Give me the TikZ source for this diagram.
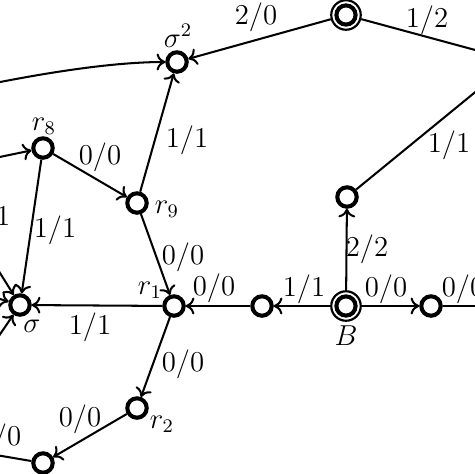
\documentclass[tikz,border=0pt]{standalone}
\usetikzlibrary{arrows.meta}
\begin{document}
\begin{tikzpicture}[x=0.4167pt,y=-0.4167pt,
  state/.style={circle,draw,line width=1.7pt,minimum size=8.1pt,inner sep=0pt,fill=white},
  dstate/.style={circle,draw,line width=0.9pt,minimum size=12.3pt,inner sep=0pt,fill=white,
    path picture={\draw[line width=1.7pt] (path picture bounding box.center) circle (4pt);}},
  edge/.style={line width=0.85pt,-{To[length=3.6pt,width=7pt]}},
  plain/.style={line width=0.85pt},
  lab/.style={inner sep=0pt,font=\fontsize{12}{14}\selectfont},
  nlab/.style={inner sep=0pt,font=\fontsize{11.5}{14}\selectfont}]
\useasboundingbox (0,0) rectangle (474,474);
% states
\node[dstate] (T) at (346,15) {};
\node[state] (s2) at (177,62) {};
\node[state] (r8) at (43,148) {};
\node[state] (r9) at (137,203) {};
\node[state] (U) at (347,197) {};
\node[state] (sig) at (20,305) {};
\node[state] (r1) at (174,306) {};
\node[state] (L) at (262,306) {};
\node[dstate] (B) at (346,306) {};
\node[state] (R) at (431,306) {};
\node[state] (r2) at (137,408) {};
\node[state] (Bt) at (43,463) {};
% free ends
\coordinate (eTR) at (490,54);
\coordinate (eUR) at (490,80);
\coordinate (eR) at (490,306);
\coordinate (eC) at (-10,84);
\coordinate (e8) at (-10,159);
\coordinate (eBt) at (-10,454);
\coordinate (es1) at (-10,257);
\coordinate (es2) at (-10,296);
\coordinate (es3) at (-10,349);
% node labels
\node[nlab] (ls2) at (178,36) {$\sigma^2$};
\node[nlab] (lr8) at (44,126) {$r_8$};
\node[nlab] (lr9) at (167,209) {$r_9$};
\node[nlab] (lr1) at (150,290) {$r_1$};
\node[nlab] (lsig) at (32,326) {$\sigma$};
\node[nlab] (lr2) at (162,424) {$r_2$};
\node[nlab] (lB) at (346,336) {$B$};
% edges
\draw[edge] (T) -- (s2);
\draw[plain] (T) -- (eTR);
\draw[plain] (U) -- (eUR);
\draw[edge] (B) -- (U);
\draw[edge] (B) -- (L);
\draw[edge] (L) -- (r1);
\draw[edge] (B) -- (R);
\draw[plain] (R) -- (eR);
\draw[edge] (r1) -- (sig);
\draw[edge] (r1) -- (r2);
\draw[edge] (r2) -- (Bt);
\draw[plain] (eBt) -- (Bt);
\draw[edge] (r9) -- (r1);
\draw[edge] (r9) -- (s2);
\draw[edge] (r8) -- (r9);
\draw[edge] (r8) -- (sig);
\draw[edge] (e8) -- (r8);
\draw[edge] (eC) .. controls (60,70) and (120,62) .. (s2);
\draw[edge] (es1) -- (sig);
\draw[edge] (es2) -- (sig);
\draw[edge] (es3) -- (sig);
% edge labels
\node[lab] (a1) at (256,17) {2/0};
\node[lab] (a2) at (427,20) {1/2};
\node[lab] (a3) at (449,145) {1/1};
\node[lab] (a4) at (367,249) {2/2};
\node[lab] (a5) at (304,289) {1/1};
\node[lab] (a6) at (214,288) {0/0};
\node[lab] (a7) at (386,289) {0/0};
\node[lab] (a8) at (463,289) {0/0};
\node[lab] (a9) at (90,327) {1/1};
\node[lab] (a10) at (183,364) {0/0};
\node[lab] (a11) at (80,419) {0/0};
\node[lab] (a12) at (0,438) {0/0};
\node[lab] (a13) at (183,257) {0/0};
\node[lab] (a14) at (187,140) {1/1};
\node[lab] (a15) at (100,157) {0/0};
\node[lab] (a16) at (55,230) {1/1};
\node[lab] (a17) at (-11,218) {1/1};
\end{tikzpicture}
\end{document}
